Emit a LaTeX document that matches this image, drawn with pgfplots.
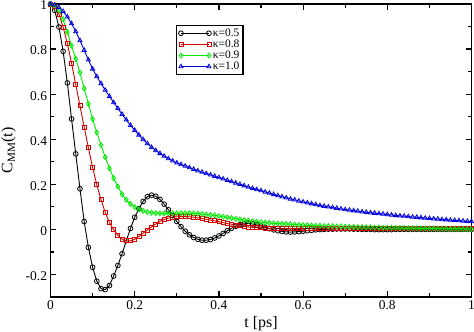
\documentclass[border=0pt]{standalone}
\usepackage{fontspec}
\setmainfont{Liberation Serif}
\usepackage{pgfplots}
\usepackage{pgfplotstable}
\pgfplotsset{compat=1.18}
\definecolor{gred}{RGB}{215,0,0}
\definecolor{ggreen}{RGB}{0,235,0}
\definecolor{gblue}{RGB}{0,0,220}

\pgfplotstableread{
t y
0.00 1.000
0.01 0.972
0.02 0.898
0.03 0.790
0.04 0.650
0.05 0.490
0.06 0.335
0.07 0.180
0.08 0.035
0.09 -0.080
0.10 -0.168
0.11 -0.230
0.12 -0.263
0.13 -0.267
0.14 -0.249
0.15 -0.207
0.16 -0.160
0.17 -0.108
0.18 -0.050
0.19 0.004
0.20 0.054
0.21 0.092
0.22 0.124
0.23 0.145
0.24 0.152
0.25 0.147
0.26 0.133
0.27 0.112
0.28 0.087
0.29 0.061
0.30 0.035
0.31 0.012
0.32 -0.008
0.33 -0.024
0.34 -0.036
0.35 -0.044
0.36 -0.048
0.37 -0.048
0.38 -0.045
0.39 -0.038
0.40 -0.029
0.41 -0.018
0.42 -0.006
0.43 0.005
0.44 0.014
0.45 0.021
0.46 0.025
0.47 0.026
0.48 0.024
0.49 0.020
0.50 0.015
0.51 0.009
0.52 0.003
0.53 -0.002
0.54 -0.006
0.55 -0.009
0.56 -0.011
0.57 -0.012
0.58 -0.011
0.59 -0.010
0.60 -0.008
0.61 -0.006
0.62 -0.004
0.63 -0.002
0.64 -0.001
0.65 0.000
0.66 0.001
0.67 0.001
0.68 0.002
0.69 0.002
0.70 0.002
0.71 0.002
0.72 0.001
0.73 0.001
0.74 0.000
0.75 0.000
0.76 0.000
0.77 -0.001
0.78 -0.001
0.79 -0.001
0.80 -0.001
0.81 -0.001
0.82 0.000
0.83 0.000
0.84 0.000
0.85 0.000
0.86 0.000
0.87 0.000
0.88 0.000
0.89 0.000
0.90 0.000
0.91 0.000
0.92 0.000
0.93 0.000
0.94 0.000
0.95 0.000
0.96 0.000
0.97 0.000
0.98 0.000
0.99 0.000
1.00 0.000
}\tblA

\pgfplotstableread{
t y
0.00 1.000
0.01 0.988
0.02 0.955
0.03 0.897
0.04 0.825
0.05 0.738
0.06 0.642
0.07 0.548
0.08 0.454
0.09 0.362
0.10 0.275
0.11 0.198
0.12 0.132
0.13 0.075
0.14 0.030
0.15 -0.002
0.16 -0.026
0.17 -0.043
0.18 -0.051
0.19 -0.051
0.20 -0.044
0.21 -0.031
0.22 -0.017
0.23 -0.003
0.24 0.011
0.25 0.024
0.26 0.035
0.27 0.044
0.28 0.050
0.29 0.054
0.30 0.056
0.31 0.057
0.32 0.057
0.33 0.056
0.34 0.054
0.35 0.051
0.36 0.048
0.37 0.045
0.38 0.041
0.39 0.038
0.40 0.034
0.41 0.030
0.42 0.026
0.43 0.023
0.44 0.019
0.45 0.016
0.46 0.013
0.47 0.011
0.48 0.009
0.49 0.008
0.50 0.007
0.51 0.006
0.52 0.005
0.53 0.005
0.54 0.004
0.55 0.004
0.56 0.004
0.57 0.004
0.58 0.004
0.59 0.004
0.60 0.004
0.61 0.004
0.62 0.004
0.63 0.004
0.64 0.004
0.65 0.004
0.66 0.004
0.67 0.004
0.68 0.004
0.69 0.004
0.70 0.005
0.71 0.005
0.72 0.005
0.73 0.005
0.74 0.005
0.75 0.005
0.76 0.005
0.77 0.005
0.78 0.005
0.79 0.005
0.80 0.005
0.81 0.005
0.82 0.005
0.83 0.005
0.84 0.005
0.85 0.005
0.86 0.005
0.87 0.005
0.88 0.005
0.89 0.005
0.90 0.005
0.91 0.005
0.92 0.005
0.93 0.005
0.94 0.005
0.95 0.005
0.96 0.005
0.97 0.005
0.98 0.005
0.99 0.005
1.00 0.005
}\tblB

\pgfplotstableread{
t y
0.00 1.000
0.01 0.993
0.02 0.972
0.03 0.932
0.04 0.875
0.05 0.815
0.06 0.757
0.07 0.696
0.08 0.625
0.09 0.557
0.10 0.490
0.11 0.430
0.12 0.374
0.13 0.320
0.14 0.271
0.15 0.227
0.16 0.190
0.17 0.156
0.18 0.132
0.19 0.113
0.20 0.099
0.21 0.089
0.22 0.082
0.23 0.077
0.24 0.074
0.25 0.072
0.26 0.071
0.27 0.071
0.28 0.071
0.29 0.071
0.30 0.072
0.31 0.072
0.32 0.072
0.33 0.072
0.34 0.071
0.35 0.070
0.36 0.068
0.37 0.066
0.38 0.064
0.39 0.062
0.40 0.059
0.41 0.056
0.42 0.053
0.43 0.050
0.44 0.047
0.45 0.044
0.46 0.041
0.47 0.039
0.48 0.036
0.49 0.034
0.50 0.032
0.51 0.030
0.52 0.029
0.53 0.027
0.54 0.026
0.55 0.025
0.56 0.024
0.57 0.023
0.58 0.021
0.59 0.020
0.60 0.019
0.61 0.018
0.62 0.017
0.63 0.016
0.64 0.016
0.65 0.015
0.66 0.014
0.67 0.014
0.68 0.013
0.69 0.013
0.70 0.012
0.71 0.011
0.72 0.011
0.73 0.010
0.74 0.010
0.75 0.009
0.76 0.009
0.77 0.008
0.78 0.008
0.79 0.007
0.80 0.007
0.81 0.007
0.82 0.006
0.83 0.006
0.84 0.006
0.85 0.005
0.86 0.005
0.87 0.005
0.88 0.004
0.89 0.004
0.90 0.004
0.91 0.004
0.92 0.003
0.93 0.003
0.94 0.003
0.95 0.002
0.96 0.002
0.97 0.002
0.98 0.002
0.99 0.001
1.00 0.001
}\tblC

\pgfplotstableread{
t y
0.00 1.000
0.01 0.996
0.02 0.985
0.03 0.967
0.04 0.943
0.05 0.913
0.06 0.878
0.07 0.838
0.08 0.795
0.09 0.752
0.10 0.712
0.11 0.678
0.12 0.647
0.13 0.618
0.14 0.590
0.15 0.563
0.16 0.537
0.17 0.511
0.18 0.486
0.19 0.462
0.20 0.440
0.21 0.419
0.22 0.399
0.23 0.381
0.24 0.364
0.25 0.350
0.26 0.337
0.27 0.325
0.28 0.314
0.29 0.304
0.30 0.295
0.31 0.288
0.32 0.281
0.33 0.274
0.34 0.267
0.35 0.260
0.36 0.254
0.37 0.248
0.38 0.242
0.39 0.236
0.40 0.230
0.41 0.224
0.42 0.218
0.43 0.212
0.44 0.206
0.45 0.200
0.46 0.194
0.47 0.188
0.48 0.182
0.49 0.177
0.50 0.172
0.51 0.166
0.52 0.161
0.53 0.155
0.54 0.150
0.55 0.145
0.56 0.140
0.57 0.135
0.58 0.131
0.59 0.126
0.60 0.122
0.61 0.118
0.62 0.114
0.63 0.110
0.64 0.106
0.65 0.103
0.66 0.100
0.67 0.097
0.68 0.094
0.69 0.091
0.70 0.088
0.71 0.086
0.72 0.083
0.73 0.081
0.74 0.078
0.75 0.076
0.76 0.074
0.77 0.072
0.78 0.070
0.79 0.068
0.80 0.066
0.81 0.064
0.82 0.062
0.83 0.060
0.84 0.059
0.85 0.057
0.86 0.055
0.87 0.054
0.88 0.052
0.89 0.050
0.90 0.049
0.91 0.047
0.92 0.046
0.93 0.044
0.94 0.043
0.95 0.041
0.96 0.040
0.97 0.039
0.98 0.037
0.99 0.036
1.00 0.035
}\tblD

\begin{document}
\begin{tikzpicture}
\useasboundingbox (-50.5bp,-35bp) rectangle (423.5bp,297bp);
\begin{axis}[
  at={(0,0)}, anchor=south west,
  scale only axis,
  width=421bp, height=293bp,
  xmin=0, xmax=1, ymin=-0.3, ymax=1,
  xtick={0,0.2,0.4,0.6,0.8,1},
  xticklabels={0,0.2,0.4,0.6,0.8,1},
  ytick={-0.2,0,0.2,0.4,0.6,0.8,1},
  yticklabels={-0.2,0,0.2,0.4,0.6,0.8,1},
  minor x tick num=1, minor y tick num=1,
  tick align=inside,
  major tick length=6bp, minor tick length=4bp,
  every tick/.style={black, line width=1.2bp},
  axis line style={line width=1.4bp},
  tick label style={font=\fontsize{13.5}{15}\selectfont},
  yticklabel style={yshift=-1.5bp},
  xlabel={t [ps]},
  ylabel={C\textsubscript{MM}(t)},
  label style={font=\fontsize{16}{18}\selectfont},
  xlabel style={yshift=0bp},
  ylabel style={yshift=3bp},
  legend style={at={(0.298,0.928)}, anchor=north west,
    font=\fontsize{11.5}{12.5}\selectfont,
    draw=black, line width=1.2bp,
    inner xsep=2bp, inner ysep=1.5bp,
    row sep=-1bp,
    nodes={inner sep=1.5bp}},
  legend cell align=left,
  legend image code/.code={\draw[#1] plot coordinates {(0bp,0bp) (28bp,0bp)};},
]
\addplot[black, line width=0.9bp, mark=o, mark size=2.4bp, mark options={line width=0.8bp, fill=white}] table[x=t,y=y] {\tblA};
\addlegendentry{κ=0.5}
\addplot[gred, line width=0.9bp, mark=square, mark size=2bp, mark options={line width=0.8bp, fill=white}] table[x=t,y=y] {\tblB};
\addlegendentry{κ=0.8}
\addplot[ggreen, line width=0.9bp, mark=diamond, mark size=2.5bp, mark options={line width=0.8bp, fill=white}] table[x=t,y=y] {\tblC};
\addlegendentry{κ=0.9}
\addplot[gblue, line width=0.9bp, mark=triangle, mark size=2.4bp, mark options={line width=0.8bp, fill=white}] table[x=t,y=y] {\tblD};
\addlegendentry{κ=1.0}
\end{axis}
\end{tikzpicture}
\end{document}
